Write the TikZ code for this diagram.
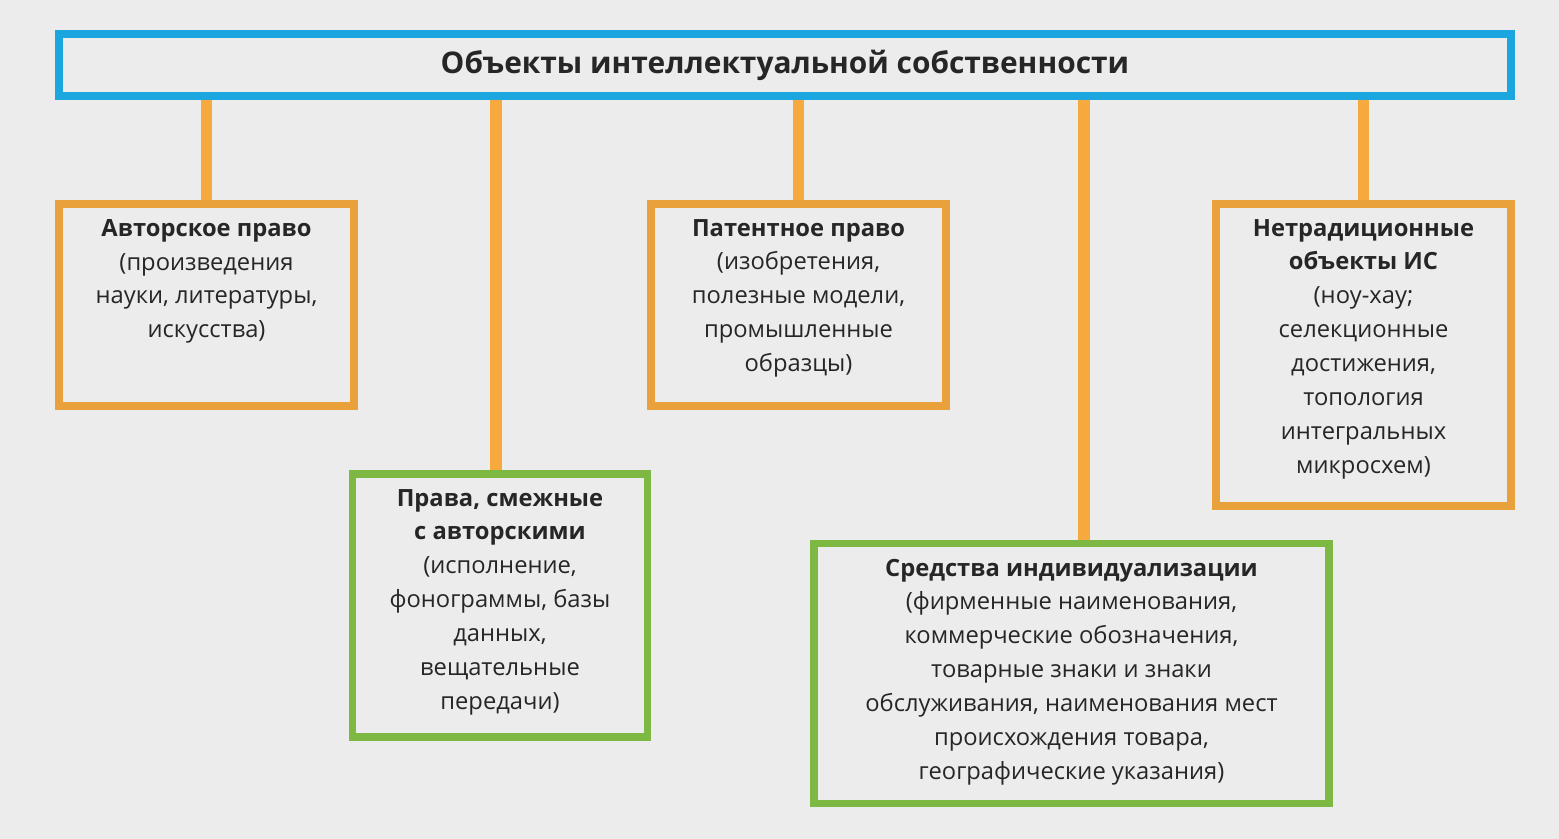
\documentclass[tikz,border=0pt]{standalone}
\usepackage{fontspec}
\setmainfont{Open Sans}
\usetikzlibrary{positioning}
\definecolor{blueline}{HTML}{1BA6E0}
\definecolor{orangeline}{HTML}{E9A23B}
\definecolor{stemline}{HTML}{F6AA3E}
\definecolor{greenline}{HTML}{7DB843}
\definecolor{bgray}{HTML}{ECECEC}
\begin{document}
\begin{tikzpicture}[
x=1cm,y=1cm,
obox/.style={
rectangle,
draw=orangeline,
line width=4.5pt,
minimum width=5.9cm
},
gbox/.style={
rectangle,
draw=greenline,
line width=4.5pt
},
btext/.style={
anchor=north,
align=center,
text=black!85,
font=\fontsize{13.5}{19.3}\selectfont,
inner sep=0pt
},
stem/.style={
draw=stemline,
line width=6.5pt
}
]
\fill[bgray] (0,0) rectangle (31.18,16.78);
\useasboundingbox (0,0) rectangle (31.18,16.78);
% Заголовок
\node[rectangle, draw=blueline, line width=4.5pt, minimum width=29.05cm, minimum height=1.25cm,
font=\fontsize{17}{20}\selectfont\bfseries, text=black!85] (title) at (15.7,15.48)
{Объекты интеллектуальной собственности};
% Блоки
\node[obox, minimum height=4.05cm] (avtor) at (4.13,10.68) {};
\node[gbox, minimum width=5.9cm, minimum height=5.27cm] (smezh) at (10.0,4.67) {};
\node[obox, minimum height=4.05cm] (patent) at (15.97,10.68) {};
\node[gbox, minimum width=10.3cm, minimum height=5.2cm] (sredstva) at (21.43,3.31) {};
\node[obox, minimum height=6.05cm] (netrad) at (27.27,9.68) {};
% Тексты
\node[btext, below=0.38cm of avtor.north] (avtor-t)
{\textbf{Авторское право}\\(произведения\\науки, литературы,\\искусства)};
\node[btext, below=0.38cm of smezh.north] (smezh-t)
{\textbf{Права, смежные}\\\textbf{с авторскими}\\(исполнение,\\фонограммы, базы\\данных,\\вещательные\\передачи)};
\node[btext, below=0.38cm of patent.north] (patent-t)
{\textbf{Патентное право}\\(изобретения,\\полезные модели,\\промышленные\\образцы)};
\node[btext, below=0.38cm of sredstva.north] (sredstva-t)
{\textbf{Средства индивидуализации}\\(фирменные наименования,\\коммерческие обозначения,\\товарные знаки и знаки\\обслуживания, наименования мест\\происхождения товара,\\географические указания)};
\node[btext, below=0.38cm of netrad.north] (netrad-t)
{\textbf{Нетрадиционные}\\\textbf{объекты ИС}\\(ноу-хау;\\селекционные\\достижения,\\топология\\интегральных\\микросхем)};
% Связи
\coordinate (sredstva-top) at ([xshift=0.25cm]sredstva.north);
\draw[stem] (avtor.north |- title.south) -- (avtor.north);
\draw[stem] ([xshift=-0.08cm]smezh.north |- title.south) -- ([xshift=-0.08cm]smezh.north);
\draw[stem] (patent.north |- title.south) -- (patent.north);
\draw[stem] (sredstva-top |- title.south) -- (sredstva-top);
\draw[stem] (netrad.north |- title.south) -- (netrad.north);
\end{tikzpicture}
\end{document}
